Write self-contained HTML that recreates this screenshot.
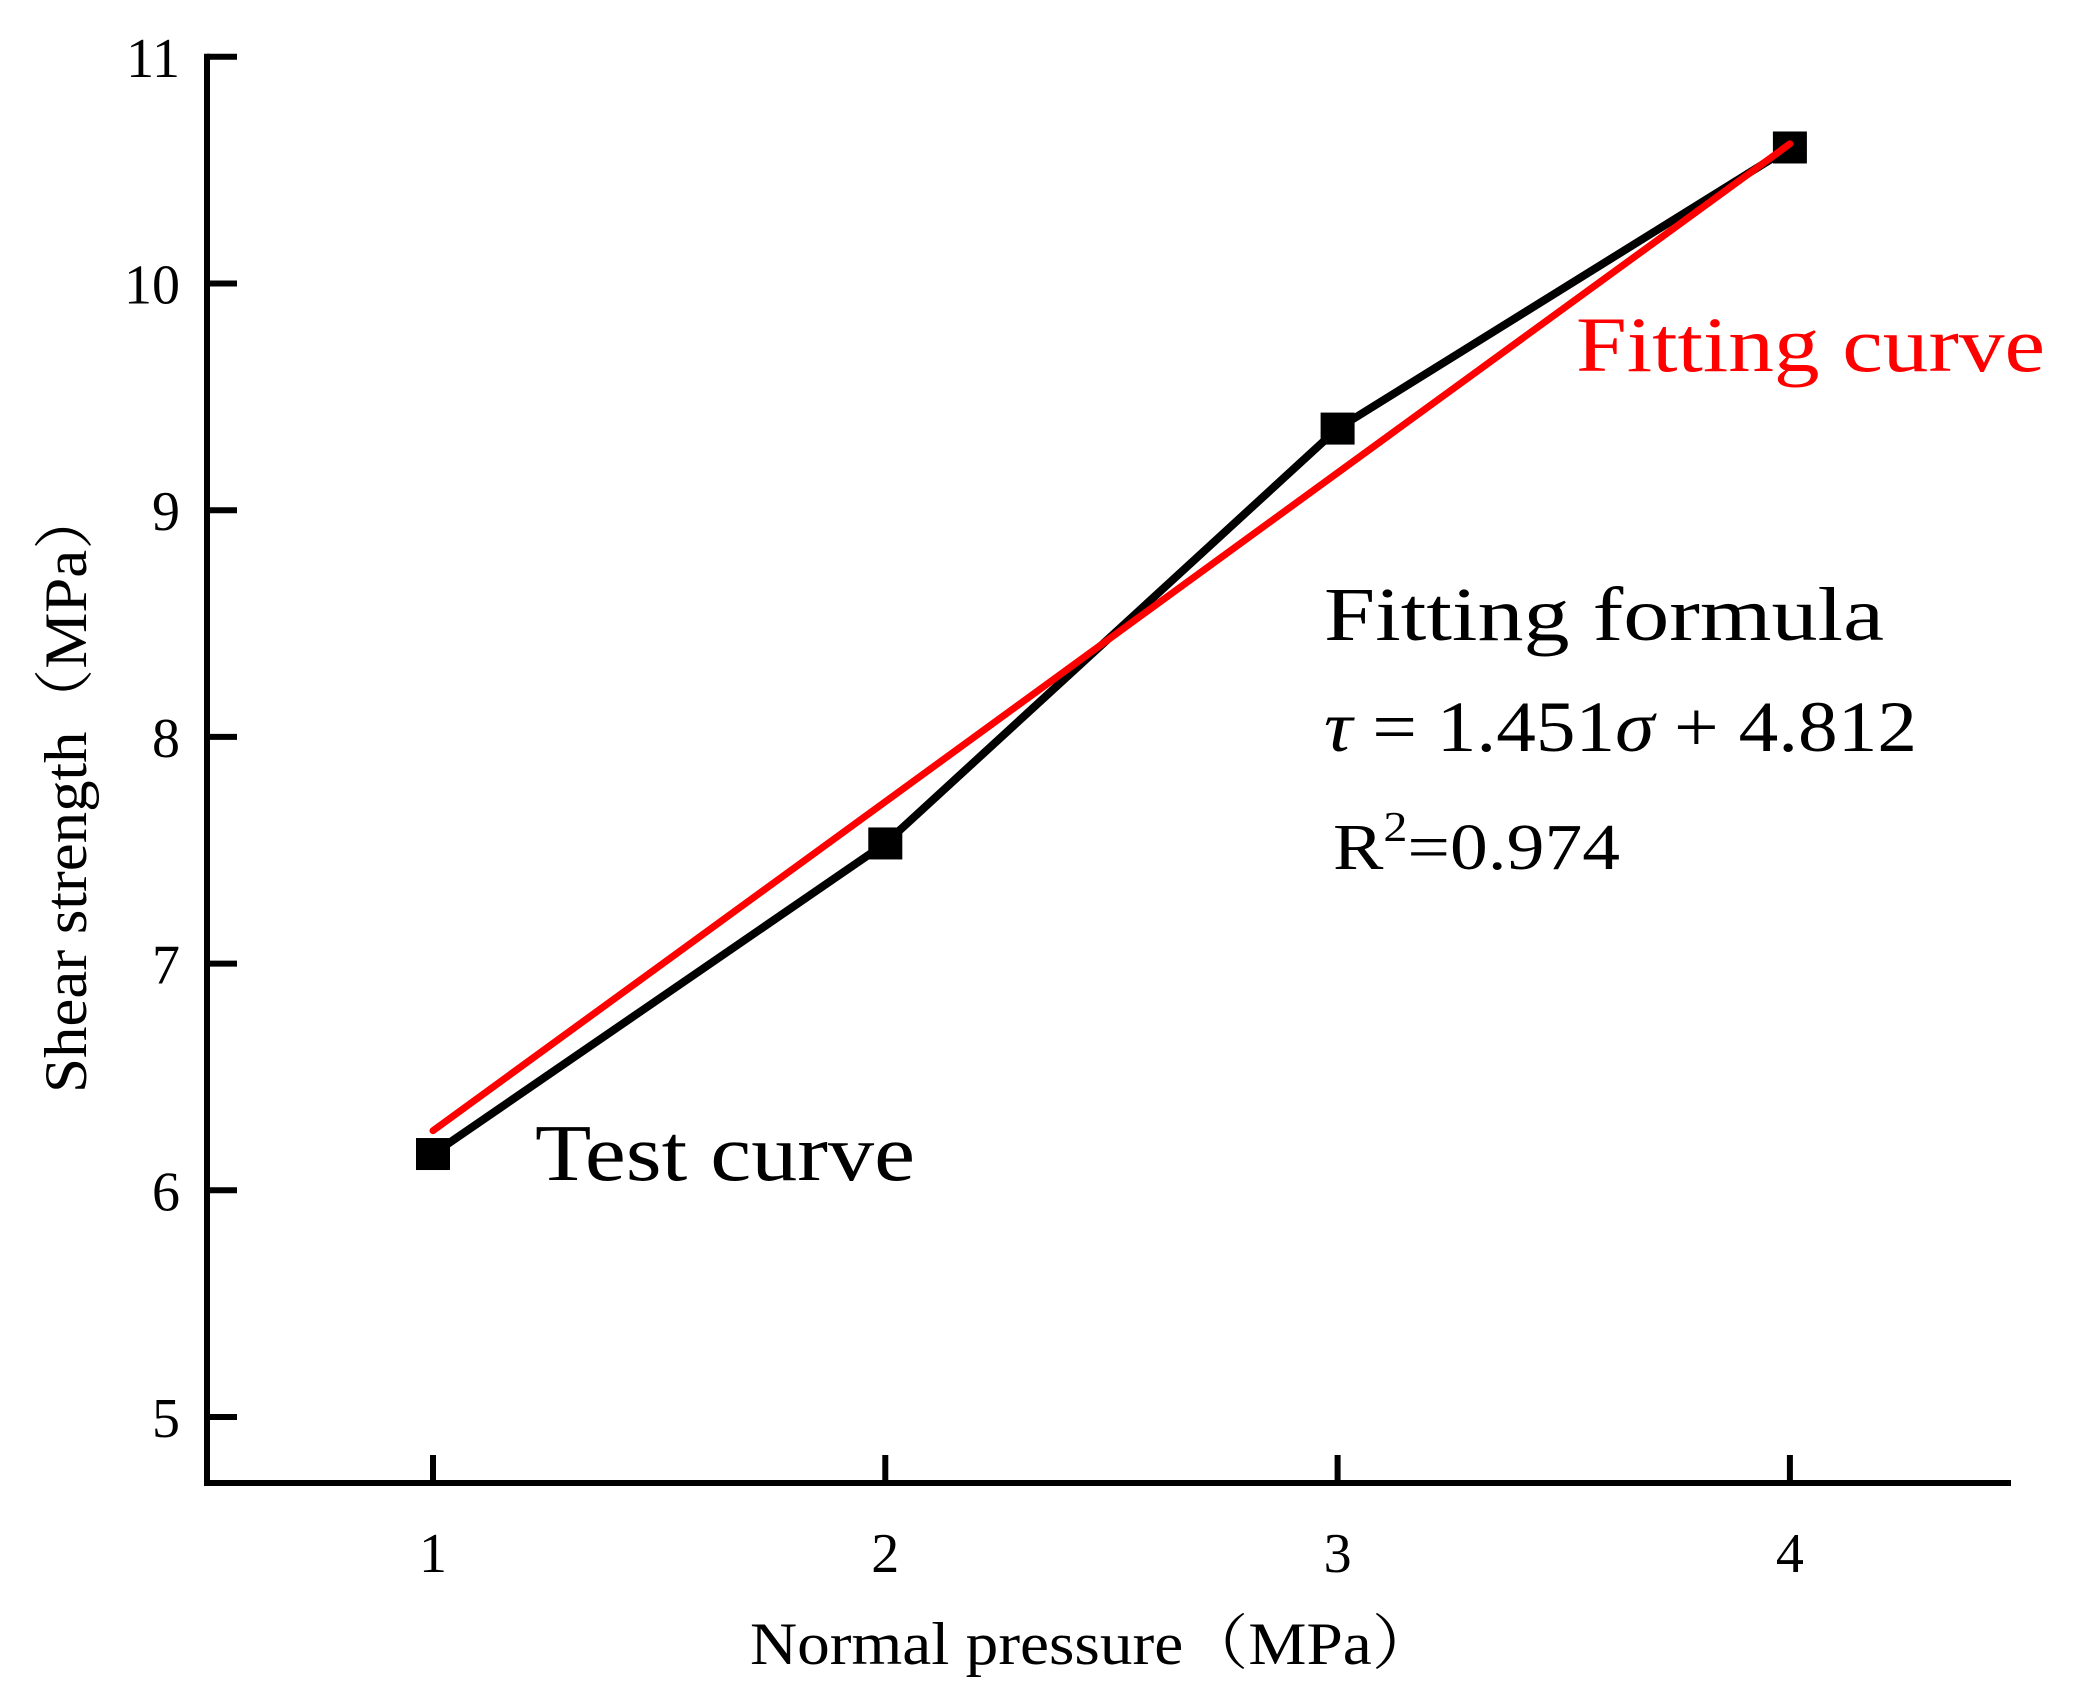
<!DOCTYPE html>
<html><head><meta charset="utf-8"><style>
html,body{margin:0;padding:0;background:#fff;}
svg{display:block;font-family:"Liberation Serif","Noto Serif CJK SC",serif;}
</style></head><body>
<svg id="chart" width="2082" height="1706" viewBox="0 0 2082 1706" xmlns="http://www.w3.org/2000/svg">
<g id="axes"></g>
<g id="series"></g>
<text x="1576" y="371" font-size="78" fill="#ff0000" textLength="469" lengthAdjust="spacingAndGlyphs">Fitting curve</text>
<text x="1324" y="640" font-size="76" fill="#000" textLength="560" lengthAdjust="spacingAndGlyphs">Fitting formula</text>
<text x="1324" y="751" font-size="72" fill="#000" textLength="593" lengthAdjust="spacingAndGlyphs"><tspan font-style="italic">τ</tspan> = 1.451<tspan font-style="italic">σ</tspan> + 4.812</text>
<text x="1333" y="869" font-size="66" fill="#000" textLength="287" lengthAdjust="spacingAndGlyphs">R<tspan font-size="42" dy="-28">2</tspan><tspan dy="28">=0.974</tspan></text>
<text x="535" y="1180" font-size="80" fill="#000" textLength="380" lengthAdjust="spacingAndGlyphs">Test curve</text>
<text x="750" y="1664" font-size="60" fill="#000" textLength="687" lengthAdjust="spacingAndGlyphs">Normal pressure（MPa）</text>
<text transform="translate(86,790) rotate(-90)" text-anchor="middle" font-size="60" fill="#000" textLength="606" lengthAdjust="spacingAndGlyphs">Shear strength（MPa）</text>
</svg>
<script>
const xCategories = [1, 2, 3, 4];
const testValues = [6.16, 7.53, 9.36, 10.6];
const fitValues = [6.263, 10.616];
const fitX = [1, 4];
const yTicks = [5, 6, 7, 8, 9, 10, 11];
const xTicks = [1, 2, 3, 4];

const NS = "http://www.w3.org/2000/svg";
const X0 = 433, XS = 452.3;
const Y0 = 1417, YS = 226.7;
const sx = v => X0 + (v - 1) * XS;
const sy = v => Y0 - (v - 5) * YS;

const axes = document.getElementById('axes');
const series = document.getElementById('series');
function mk(tag, attrs, parent) {
  const e = document.createElementNS(NS, tag);
  for (const k in attrs) e.setAttribute(k, attrs[k]);
  parent.appendChild(e);
  return e;
}
const AX = 207, AY = 1483;
let e = mk('line', {x1: AX, y1: sy(11) - 3, x2: AX, y2: AY + 3, stroke: '#000', 'stroke-width': 6}, axes);


e = mk('line', {x1: AX - 3, y1: AY, x2: 2011, y2: AY, stroke: '#000', 'stroke-width': 6}, axes);



yTicks.forEach(t => {
  const y = sy(t);
  const l = mk('line', {x1: AX, y1: y, x2: AX + 30, y2: y, stroke: '#000', 'stroke-width': 6}, axes);
  
  
  const tx = mk('text', {x: 180, y: y + 20, 'text-anchor': 'end', 'font-size': 56, fill: '#000'}, axes);
  tx.textContent = t;
  
  
});
xTicks.forEach(t => {
  const x = sx(t);
  const l = mk('line', {x1: x, y1: AY, x2: x, y2: AY - 28, stroke: '#000', 'stroke-width': 6}, axes);
  
  
  const tx = mk('text', {x: x, y: 1572, 'text-anchor': 'middle', 'font-size': 56, fill: '#000'}, axes);
  tx.textContent = t;
  
  
});

const tpts = xCategories.map((c, i) => sx(c) + ',' + sy(testValues[i])).join(' ');
e = mk('polyline', {points: tpts, fill: 'none', stroke: '#000', 'stroke-width': 8, 'stroke-linejoin': 'round'}, series);



xCategories.forEach((c, i) => {
  const m = mk('rect', {x: sx(c) - 17, y: sy(testValues[i]) - 16, width: 34, height: 32, fill: '#000'}, series);
  
  
});

e = mk('line', {x1: sx(fitX[0]), y1: sy(fitValues[0]), x2: sx(fitX[1]), y2: sy(fitValues[1]), stroke: '#ff0000', 'stroke-width': 7, 'stroke-linecap': 'round'}, series);


</script>
</body></html>
